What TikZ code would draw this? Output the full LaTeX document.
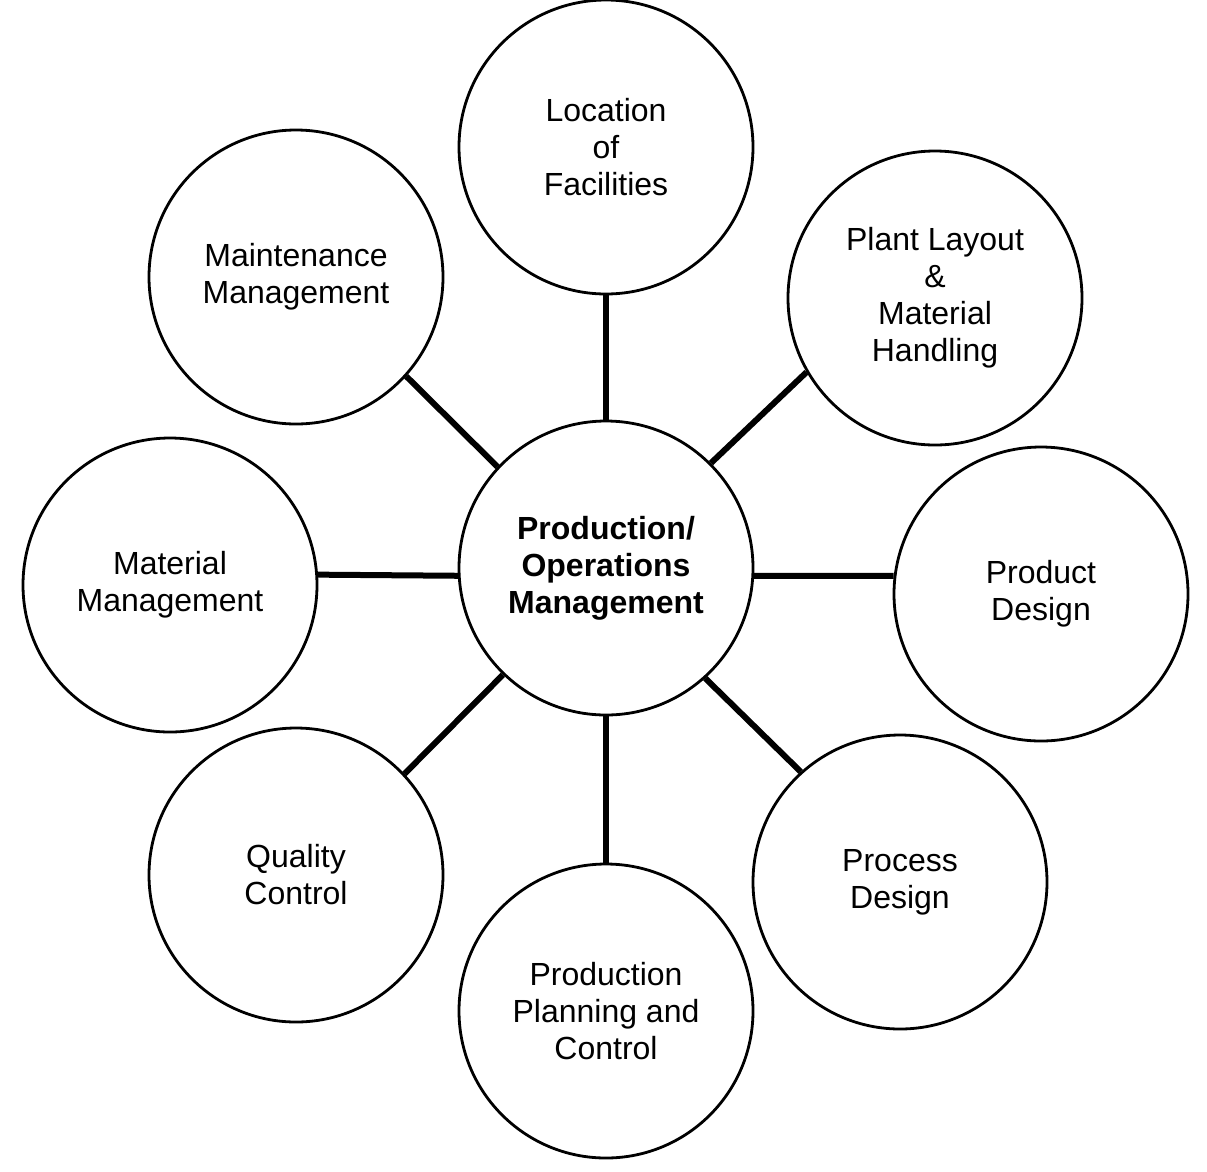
\documentclass[tikz,border=0pt]{standalone}
\usepackage{fontspec}
\setmainfont{Liberation Sans}
\begin{document}
\begin{tikzpicture}[x=1pt,y=-1pt,
  bub/.style={circle,draw,line width=2.8pt,minimum size=294pt,inner sep=0pt,align=center,font=\fontsize{32}{37}\selectfont},
  conn/.style={line width=6pt}]
\useasboundingbox (0,0) rectangle (1207,1171);
\node[bub,font=\bfseries\fontsize{32}{37}\selectfont] (c) at (606,568) {Production/\\Operations\\Management};
\node[bub] (loc) at (606,147) {Location\\of\\Facilities};
\node[bub] (plant) at (935,298) {Plant Layout\\\&\\Material\\Handling};
\node[bub] (prod) at (1041,594) {Product\\Design};
\node[bub] (proc) at (900,882) {Process\\Design};
\node[bub] (ppc) at (606,1011) {Production\\Planning and\\Control};
\node[bub] (qc) at (296,875) {Quality\\Control};
\node[bub] (mat) at (170,585) {Material\\Management};
\node[bub] (maint) at (296,277) {Maintenance\\Management};
\draw[conn] (c.north) -- (loc.south);
\draw[conn] (c.45) -- (plant.210);
\draw[conn] (c.-3) -- (prod.173);
\draw[conn] (c.-48) -- (proc.132);
\draw[conn] (c.south) -- (ppc.north);
\draw[conn] (c.226) -- (qc.43);
\draw[conn] (c.183) -- (mat.4);
\draw[conn] (c.137) -- (maint.-42);
\end{tikzpicture}
\end{document}
